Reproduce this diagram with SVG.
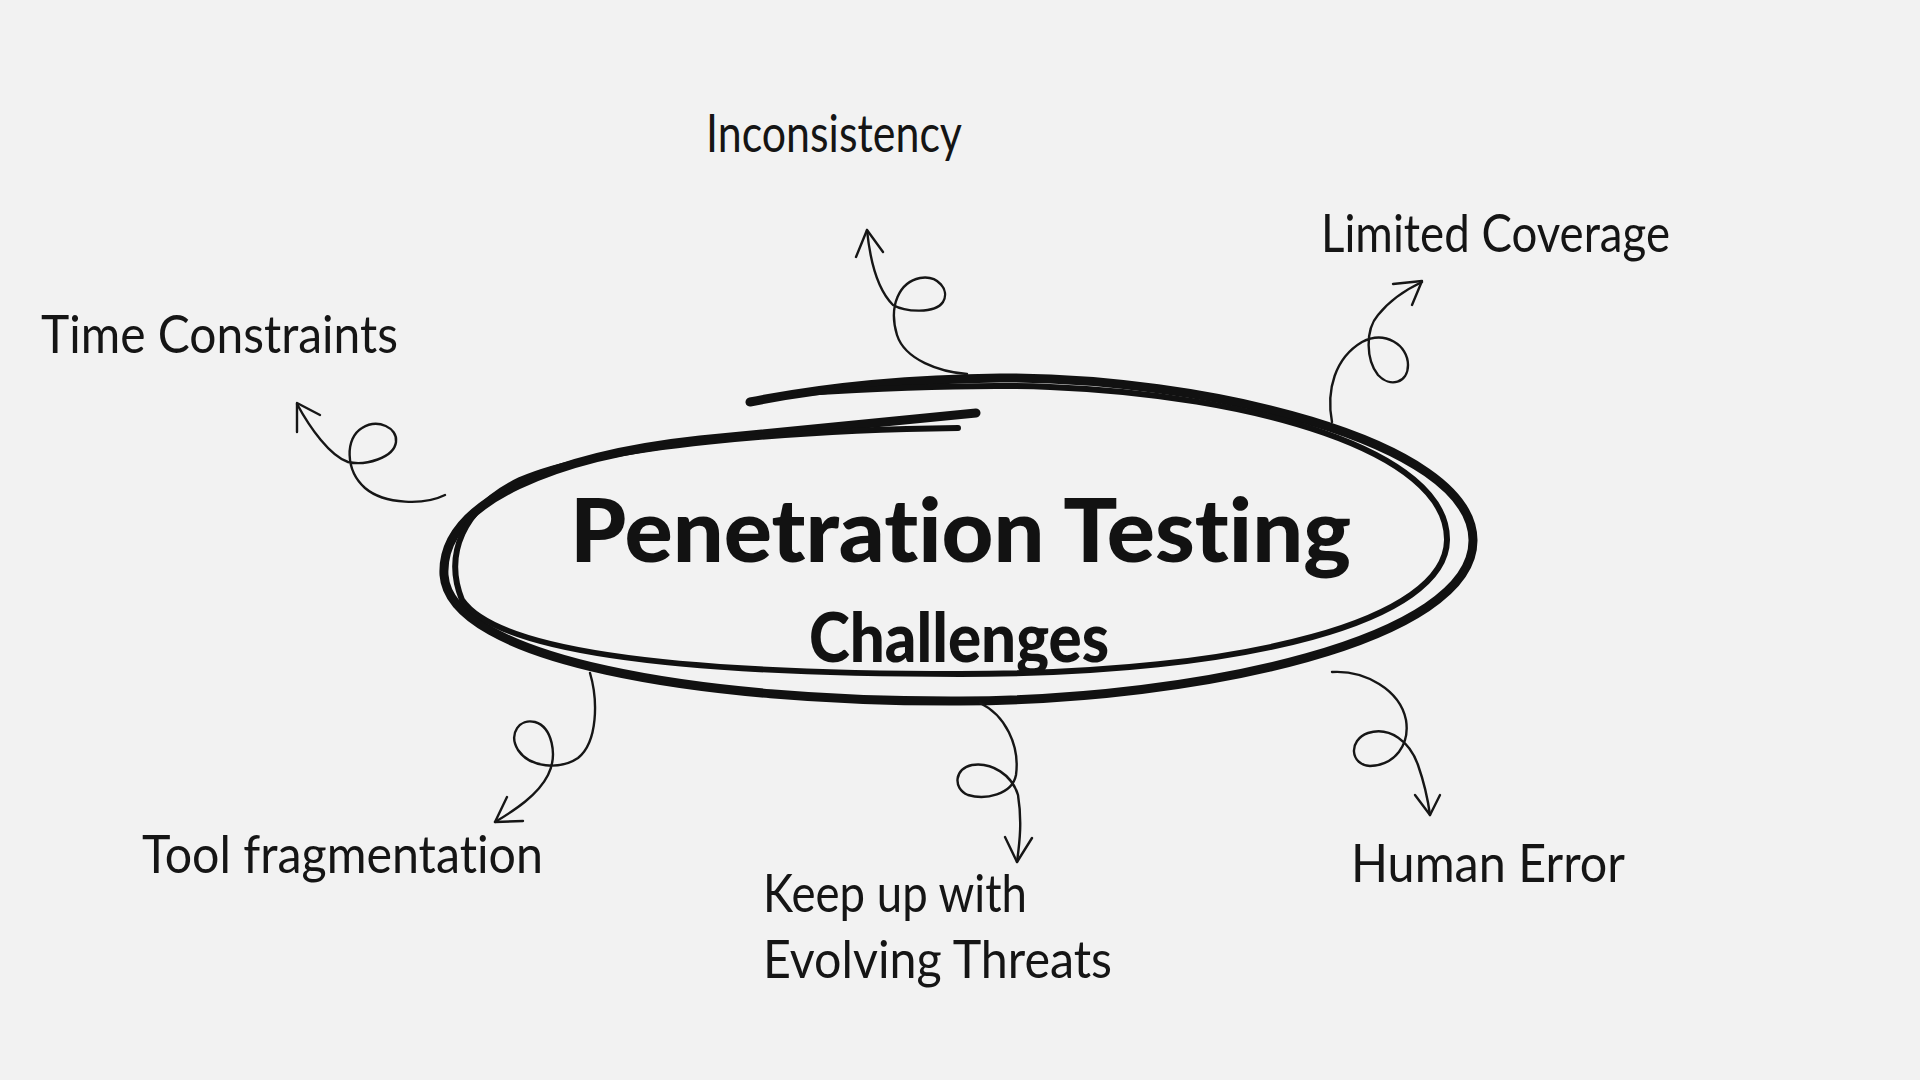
<svg xmlns="http://www.w3.org/2000/svg" width="1920" height="1080" viewBox="0 0 1920 1080">
  <style>
    text { font-variant-ligatures: none; font-feature-settings: "liga" 0, "clig" 0, "dlig" 0; }
    .lbl { font-family: Lato, "Open Sans", "Liberation Sans", sans-serif; font-size: 52px; fill: #151515; }
    .title { font-family: Lato, "Open Sans", "Liberation Sans", sans-serif; font-weight: 900; fill: #121212; }
    .ring { fill: none; stroke: #111; stroke-linecap: round; stroke-linejoin: round; }
    .arr { fill: none; stroke: #161616; stroke-width: 2.4; stroke-linecap: round; stroke-linejoin: round; }
  </style>
  <rect width="1920" height="1080" fill="#f2f2f2"/>

  <g id="center-node">
    <path class="ring" stroke-width="9" d="M750,402 C830,386 920,379 1000,378 C1200,377 1472,440 1473,540 C1474,640 1200,700 960,701 C700,702 450,660 444,575 C440,500 560,455 700,440 C800,430 900,420 976,413"/>
    <path class="ring" stroke-width="6" d="M958,428 C800,430 600,445 520,480 C462,508 444,555 462,600 C500,655 700,674 960,674 C1250,674 1446,620 1447,540 C1448,450 1250,395 1050,387 C980,384 900,387 800,393"/>
    <text class="title" x="570" y="562" font-size="88" textLength="781" lengthAdjust="spacingAndGlyphs">Penetration Testing</text>
    <text class="title" x="809" y="662" font-size="68" textLength="300" lengthAdjust="spacingAndGlyphs">Challenges</text>
  </g>

  <g id="node-inconsistency">
    <text class="lbl" x="706" y="152" textLength="256" lengthAdjust="spacingAndGlyphs">Inconsistency</text>
  </g>
  <g id="node-limited-coverage">
    <text class="lbl" x="1321" y="252" textLength="349" lengthAdjust="spacingAndGlyphs">Limited Coverage</text>
  </g>
  <g id="node-time-constraints">
    <text class="lbl" x="41" y="353" textLength="357" lengthAdjust="spacingAndGlyphs">Time Constraints</text>
  </g>
  <g id="node-tool-fragmentation">
    <text class="lbl" x="142" y="873" textLength="401" lengthAdjust="spacingAndGlyphs">Tool fragmentation</text>
  </g>
  <g id="node-evolving-threats">
    <text class="lbl" x="763" y="912" textLength="264" lengthAdjust="spacingAndGlyphs">Keep up with</text>
    <text class="lbl" x="763" y="978" textLength="349" lengthAdjust="spacingAndGlyphs">Evolving Threats</text>
  </g>
  <g id="node-human-error">
    <text class="lbl" x="1351" y="882" textLength="274" lengthAdjust="spacingAndGlyphs">Human Error</text>
  </g>

  <g id="connectors">
    <path class="arr" d="M445,495 C425,505 385,505 365,488 C345,470 345,438 362,428 C378,418 398,428 396,442 C394,458 365,466 348,462 C330,456 310,428 297,404"/>
    <path class="arr" d="M297,432 L297,403 L320,415"/>

    <path class="arr" d="M967,374 C940,372 905,360 897,335 C888,305 900,282 920,278 C938,275 950,290 943,302 C935,314 905,312 893,305 C878,290 870,260 867,230"/>
    <path class="arr" d="M856,257 L867,230 L883,252"/>

    <path class="arr" d="M1332,422 C1326,390 1335,358 1362,342 C1385,330 1408,345 1408,365 C1408,383 1390,388 1378,375 C1366,360 1365,330 1378,315 C1390,300 1405,290 1422,282"/>
    <path class="arr" d="M1393,284 L1422,281 L1412,305"/>

    <path class="arr" d="M590,673 C598,700 598,742 578,758 C560,770 530,768 518,750 C508,733 520,718 535,722 C552,727 558,755 548,775 C538,795 515,810 495,822"/>
    <path class="arr" d="M507,797 L495,822 L523,821"/>

    <path class="arr" d="M980,703 C1005,715 1020,745 1016,775 C1012,795 985,800 968,795 C952,788 955,768 972,765 C992,762 1012,775 1018,795 C1022,820 1020,840 1017,862"/>
    <path class="arr" d="M1005,837 L1017,862 L1032,838"/>

    <path class="arr" d="M1332,672 C1365,670 1400,690 1406,720 C1410,745 1395,765 1370,766 C1350,765 1348,740 1368,733 C1390,726 1410,742 1418,765 C1425,785 1428,800 1430,815"/>
    <path class="arr" d="M1415,795 L1430,815 L1440,795"/>
  </g>
</svg>
